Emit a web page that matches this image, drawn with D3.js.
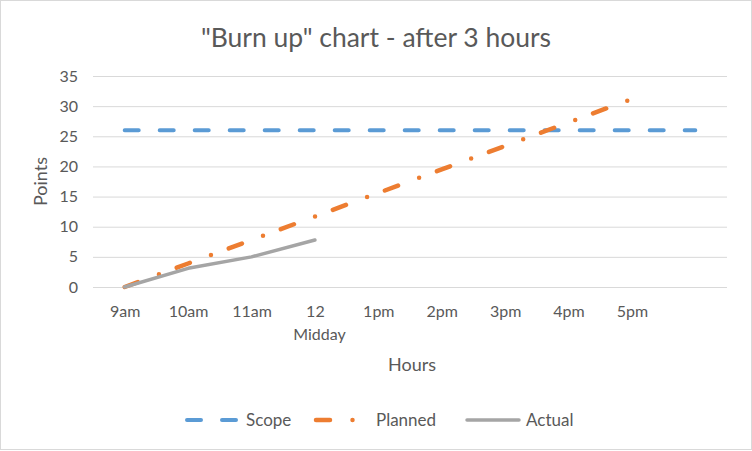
<!DOCTYPE html>
<html>
<head>
<meta charset="utf-8">
<script src="https://cdn.jsdelivr.net/npm/d3@7"></script>
<style>
  body { margin: 0; background: #fff; }
  text { font-family: Lato, "Open Sans", sans-serif; fill: #595959; }
</style>
</head>
<body>
<div id="canvas"></div>
<script>
"use strict"

/* Data */
let hours = ["9am", "10am", "11am", "12 Midday", "1pm", "2pm", "3pm", "4pm", "5pm", ""];
let scope = [26, 26, 26, 26, 26, 26, 26, 26, 26, 26];
let planned = [0, 3.9, 7.8, 11.7, 15.6, 19.5, 23.4, 27.3, 31.2];
let actual = [0, 3.1, 5, 7.8];
let yTicks = [0, 5, 10, 15, 20, 25, 30, 35];

/* Drawing config */
let svgWidth = 752;
let svgHeight = 451;
let plot = { left: 93, right: 727, top: 76, bottom: 287 };

let svg = d3.select("#canvas")
    .append("svg")
    .attr("width", svgWidth)
    .attr("height", svgHeight);

/* chart border */
svg.append("rect")
    .attr("x", 0.5)
    .attr("y", 0.5)
    .attr("width", svgWidth - 1)
    .attr("height", svgHeight - 2)
    .attr("fill", "#fff")
    .attr("stroke", "#d9d9d9");

let xScale = d3.scalePoint()
    .domain(hours)
    .range([plot.left, plot.right])
    .padding(0.5);

let yScale = d3.scaleLinear()
    .domain([0, 35])
    .range([plot.bottom, plot.top]);

/* y axis + gridlines */
let yAxis = svg.append("g")
    .attr("transform", "translate(" + plot.left + ",0)")
    .call(d3.axisLeft(yScale)
        .tickValues(yTicks)
        .tickSize(-(plot.right - plot.left))
        .tickPadding(15));

yAxis.select(".domain").remove();
yAxis.selectAll(".tick line").attr("stroke", "#d9d9d9");
yAxis.selectAll(".tick text")
    .attr("font-size", 16)
    .attr("fill", "#595959")
    .style("font-family", "Lato, sans-serif");

/* x axis labels (no line, the 0 gridline does the job) */
let xAxis = svg.append("g")
    .attr("transform", "translate(0," + plot.bottom + ")")
    .call(d3.axisBottom(xScale).tickSize(0).tickPadding(0));

xAxis.select(".domain").remove();
xAxis.selectAll(".tick text").remove();
xAxis.selectAll(".tick").each(function (d) {
    let t = d3.select(this).append("text")
        .attr("text-anchor", "middle")
        .attr("font-size", 16)
        .attr("fill", "#595959")
        .style("font-family", "Lato, sans-serif");
    d.split(" ").forEach(function (part, i) {
        t.append("tspan")
            .attr("x", i == 0 ? 0 : 4)
            .attr("y", 30 + i * 23)
            .text(part);
    });
});

/* series */
let line = d3.line()
    .x(function (v, i) { return xScale(hours[i]); })
    .y(function (v) { return yScale(v); });

let series = [
    { name: "Scope", values: scope, color: "#5b9bd5", width: 4, dash: "14,21" },
    { name: "Planned", values: planned, color: "#ed7d31", width: 4.5, dash: "14,22.5,0,19" },
    { name: "Actual", values: actual, color: "#a5a5a5", width: 3.5, dash: null }
];

series.forEach(function (s) {
    svg.append("path")
        .datum(s.values)
        .attr("d", line)
        .attr("fill", "none")
        .attr("stroke", s.color)
        .attr("stroke-width", s.width)
        .attr("stroke-linecap", "round")
        .attr("stroke-linejoin", "round")
        .attr("stroke-dasharray", s.dash);
});

/* title */
svg.append("text")
    .attr("x", 376)
    .attr("y", 47)
    .attr("text-anchor", "middle")
    .attr("font-size", 26.5)
    .text("\"Burn up\" chart - after 3 hours");

/* axis titles */
svg.append("text")
    .attr("x", (plot.left + plot.right) / 2 + 2)
    .attr("y", 371)
    .attr("text-anchor", "middle")
    .attr("font-size", 18)
    .text("Hours");

svg.append("text")
    .attr("transform", "translate(47," + ((plot.top + plot.bottom) / 2) + ") rotate(-90)")
    .attr("text-anchor", "middle")
    .attr("font-size", 18)
    .text("Points");

/* legend */
let legendX = [187, 316, 467];
let legend = svg.selectAll(".legend")
    .data(series)
    .join("g")
    .attr("class", "legend")
    .attr("transform", function (s, i) { return "translate(" + legendX[i] + ",420)"; });

legend.append("line")
    .attr("x1", 0)
    .attr("x2", function (s) { return s.name == "Planned" ? 37 : 52; })
    .attr("stroke", function (s) { return s.color; })
    .attr("stroke-width", function (s) { return s.width; })
    .attr("stroke-linecap", "round")
    .attr("stroke-dasharray", function (s) { return s.dash; });

legend.append("text")
    .attr("x", function (s) { return s.name == "Planned" ? 60 : 59; })
    .attr("y", 6)
    .attr("font-size", 17)
    .text(function (s) { return s.name; });
</script>
</body>
</html>
